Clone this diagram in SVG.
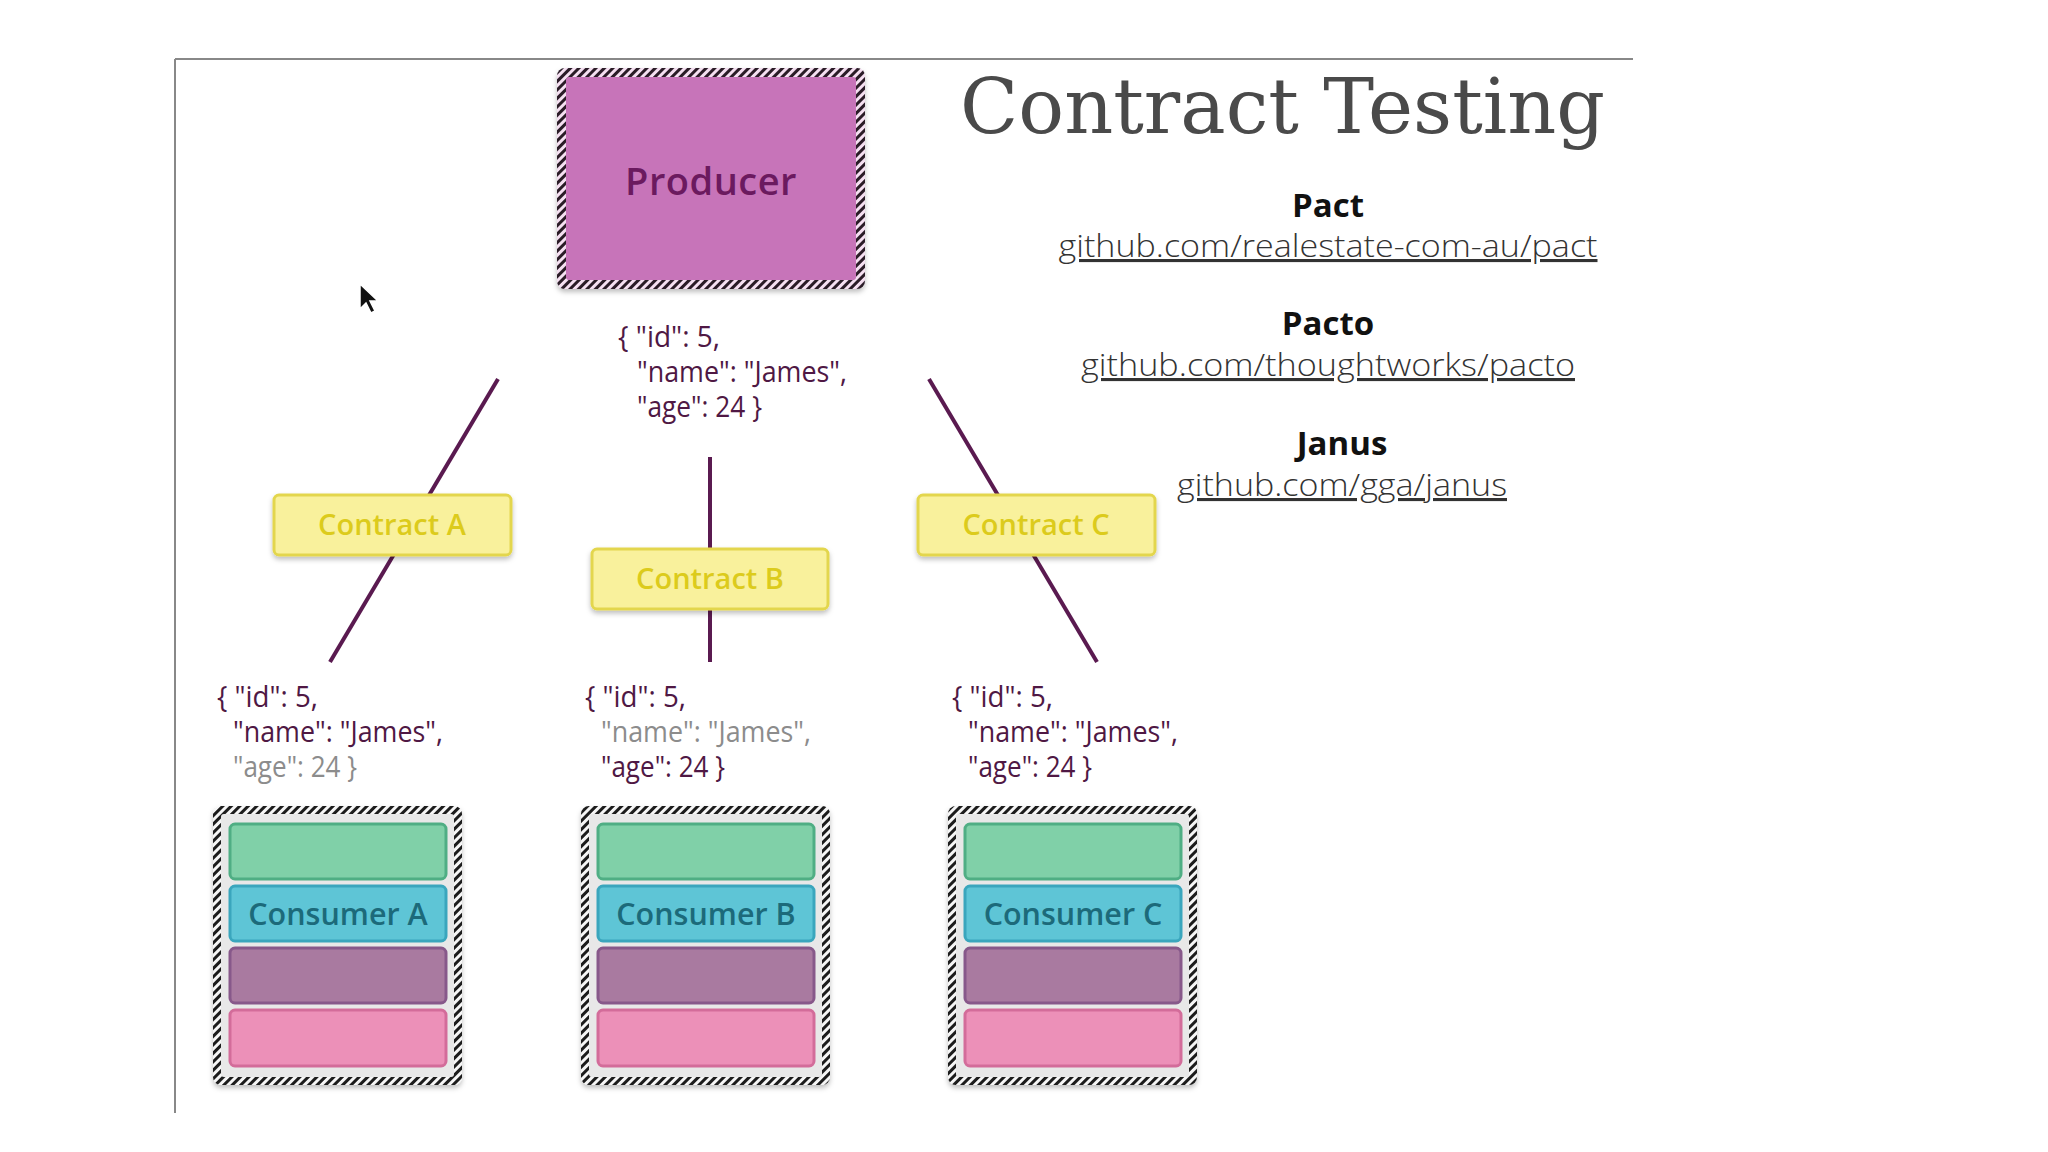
<svg xmlns="http://www.w3.org/2000/svg" width="2048" height="1152" viewBox="0 0 2048 1152">
<defs>
<pattern id="hatch" width="6" height="6" patternUnits="userSpaceOnUse" patternTransform="rotate(45)">
<rect width="6" height="6" fill="#f6f6f6"/>
<rect width="3" height="6" fill="#1a1a1a"/>
</pattern>
<pattern id="hatchP" width="6" height="6" patternUnits="userSpaceOnUse" patternTransform="rotate(45)">
<rect width="6" height="6" fill="#f5e0f1"/>
<rect width="3" height="6" fill="#2a1a28"/>
</pattern>
<filter id="sh" x="-10%" y="-10%" width="120%" height="130%">
<feDropShadow dx="0" dy="3" stdDeviation="2.5" flood-color="#000" flood-opacity="0.25"/>
</filter>
</defs>
<style>
.json{font-family:"Open Sans","DejaVu Sans",sans-serif;font-size:29px;fill:#4f1844}
.gray{fill:#8c8c8c}
.ctr{fill:#f9f19c;stroke:#e3d64e;stroke-width:3}
.ctrt{font-family:"Open Sans","DejaVu Sans",sans-serif;font-size:29px;font-weight:600;fill:#dccb1c;text-anchor:middle}
.conn{stroke:#5a1a50;stroke-width:4;fill:none}
.bar{stroke-width:3}
.green{fill:#80d0a8;stroke:#4fae84}
.cyan{fill:#5ec5d6;stroke:#3aa6bd}
.purple{fill:#a97aa0;stroke:#87588a}
.pink{fill:#ec90b8;stroke:#d36c9a}
.ct{font-family:"Open Sans","DejaVu Sans",sans-serif;font-size:30.5px;font-weight:600;fill:#1c6a7a;text-anchor:middle}
.hd{font-family:"Open Sans","DejaVu Sans",sans-serif;font-size:33px;font-weight:700;fill:#111;text-anchor:middle}
.lk{font-family:"Open Sans","DejaVu Sans",sans-serif;font-size:31px;font-weight:300;fill:#333;text-anchor:middle;text-decoration:underline}
</style>
<rect width="2048" height="1152" fill="#fff"/>
<g id="frame" stroke="#888" stroke-width="2">
<line x1="175" y1="59" x2="1633" y2="59"/>
<line x1="175" y1="59" x2="175" y2="1113"/>
</g>
<g id="title">
<text x="960" y="133" font-family="'DejaVu Serif','Liberation Serif',serif" font-size="76" fill="#4a4a4a" textLength="645" lengthAdjust="spacingAndGlyphs">Contract Testing</text>
</g>
<g id="links">
<text class="hd" x="1328" y="217">Pact</text>
<text class="lk" x="1328" y="257" textLength="539" lengthAdjust="spacingAndGlyphs">github.com/realestate-com-au/pact</text>
<text class="hd" x="1328" y="335">Pacto</text>
<text class="lk" x="1328" y="376" textLength="494" lengthAdjust="spacingAndGlyphs">github.com/thoughtworks/pacto</text>
<text class="hd" x="1342" y="455">Janus</text>
<text class="lk" x="1342" y="496" textLength="330" lengthAdjust="spacingAndGlyphs">github.com/gga/janus</text>
</g>
<g id="connectors">
<line class="conn" x1="498" y1="379" x2="330" y2="662"/>
<line class="conn" x1="710" y1="457" x2="710" y2="662"/>
<line class="conn" x1="929" y1="379" x2="1097" y2="662"/>
</g>
<g id="producer">
<rect x="557" y="68" width="308" height="221" rx="8" fill="url(#hatchP)" filter="url(#sh)"/>
<rect x="566" y="77" width="290" height="203" rx="3" fill="#c774b9"/>
<text x="711" y="195" font-family="'Open Sans','DejaVu Sans',sans-serif" font-size="38" font-weight="600" fill="#6b1a5f" text-anchor="middle" letter-spacing="0.5">Producer</text>
</g>
<g id="producer-json" class="json">
<text x="618" y="347" textLength="102" lengthAdjust="spacingAndGlyphs">{ "id": 5,</text>
<text x="637" y="382" textLength="210" lengthAdjust="spacingAndGlyphs">"name": "James",</text>
<text x="637" y="417" textLength="125" lengthAdjust="spacingAndGlyphs">"age": 24 }</text>
</g>
<g id="contract-a">
<rect class="ctr" x="274" y="495" width="237" height="60" rx="5" filter="url(#sh)"/>
<text class="ctrt" x="392" y="535">Contract A</text>
</g>
<g id="contract-b">
<rect class="ctr" x="592" y="549" width="236" height="60" rx="5" filter="url(#sh)"/>
<text class="ctrt" x="710" y="589">Contract B</text>
</g>
<g id="contract-c">
<rect class="ctr" x="918" y="495" width="237" height="60" rx="5" filter="url(#sh)"/>
<text class="ctrt" x="1036" y="535">Contract C</text>
</g>
<g id="json-a" class="json">
<text x="217" y="707" textLength="101" lengthAdjust="spacingAndGlyphs">{ "id": 5,</text>
<text x="233" y="742" textLength="210" lengthAdjust="spacingAndGlyphs">"name": "James",</text>
<text class="gray" x="233" y="777" textLength="124" lengthAdjust="spacingAndGlyphs">"age": 24 }</text>
</g>
<g id="json-b" class="json">
<text x="585" y="707" textLength="101" lengthAdjust="spacingAndGlyphs">{ "id": 5,</text>
<text class="gray" x="601" y="742" textLength="210" lengthAdjust="spacingAndGlyphs">"name": "James",</text>
<text x="601" y="777" textLength="124" lengthAdjust="spacingAndGlyphs">"age": 24 }</text>
</g>
<g id="json-c" class="json">
<text x="952" y="707" textLength="101" lengthAdjust="spacingAndGlyphs">{ "id": 5,</text>
<text x="968" y="742" textLength="210" lengthAdjust="spacingAndGlyphs">"name": "James",</text>
<text x="968" y="777" textLength="124" lengthAdjust="spacingAndGlyphs">"age": 24 }</text>
</g>
<g id="consumer-a">
<rect x="213" y="806" width="249" height="279" rx="8" fill="url(#hatch)" filter="url(#sh)"/>
<rect x="221" y="814" width="233" height="263" rx="3" fill="#e8e8e8"/>
<rect class="bar green" x="230" y="824" width="216" height="55" rx="5"/>
<rect class="bar cyan" x="230" y="886" width="216" height="55" rx="5"/>
<rect class="bar purple" x="230" y="948" width="216" height="55" rx="5"/>
<rect class="bar pink" x="230" y="1010" width="216" height="56" rx="5"/>
<text class="ct" x="338" y="925">Consumer A</text>
</g>
<g id="consumer-b">
<rect x="581" y="806" width="249" height="279" rx="8" fill="url(#hatch)" filter="url(#sh)"/>
<rect x="589" y="814" width="233" height="263" rx="3" fill="#e8e8e8"/>
<rect class="bar green" x="598" y="824" width="216" height="55" rx="5"/>
<rect class="bar cyan" x="598" y="886" width="216" height="55" rx="5"/>
<rect class="bar purple" x="598" y="948" width="216" height="55" rx="5"/>
<rect class="bar pink" x="598" y="1010" width="216" height="56" rx="5"/>
<text class="ct" x="706" y="925">Consumer B</text>
</g>
<g id="consumer-c">
<rect x="948" y="806" width="249" height="279" rx="8" fill="url(#hatch)" filter="url(#sh)"/>
<rect x="956" y="814" width="233" height="263" rx="3" fill="#e8e8e8"/>
<rect class="bar green" x="965" y="824" width="216" height="55" rx="5"/>
<rect class="bar cyan" x="965" y="886" width="216" height="55" rx="5"/>
<rect class="bar purple" x="965" y="948" width="216" height="55" rx="5"/>
<rect class="bar pink" x="965" y="1010" width="216" height="56" rx="5"/>
<text class="ct" x="1073" y="925">Consumer C</text>
</g>
<g id="cursor">
<polygon points="360,284 360,309 366,303 371,313 375,311 370,301 378,301" fill="#111" stroke="#fff" stroke-width="1.5"/>
</g>
</svg>
